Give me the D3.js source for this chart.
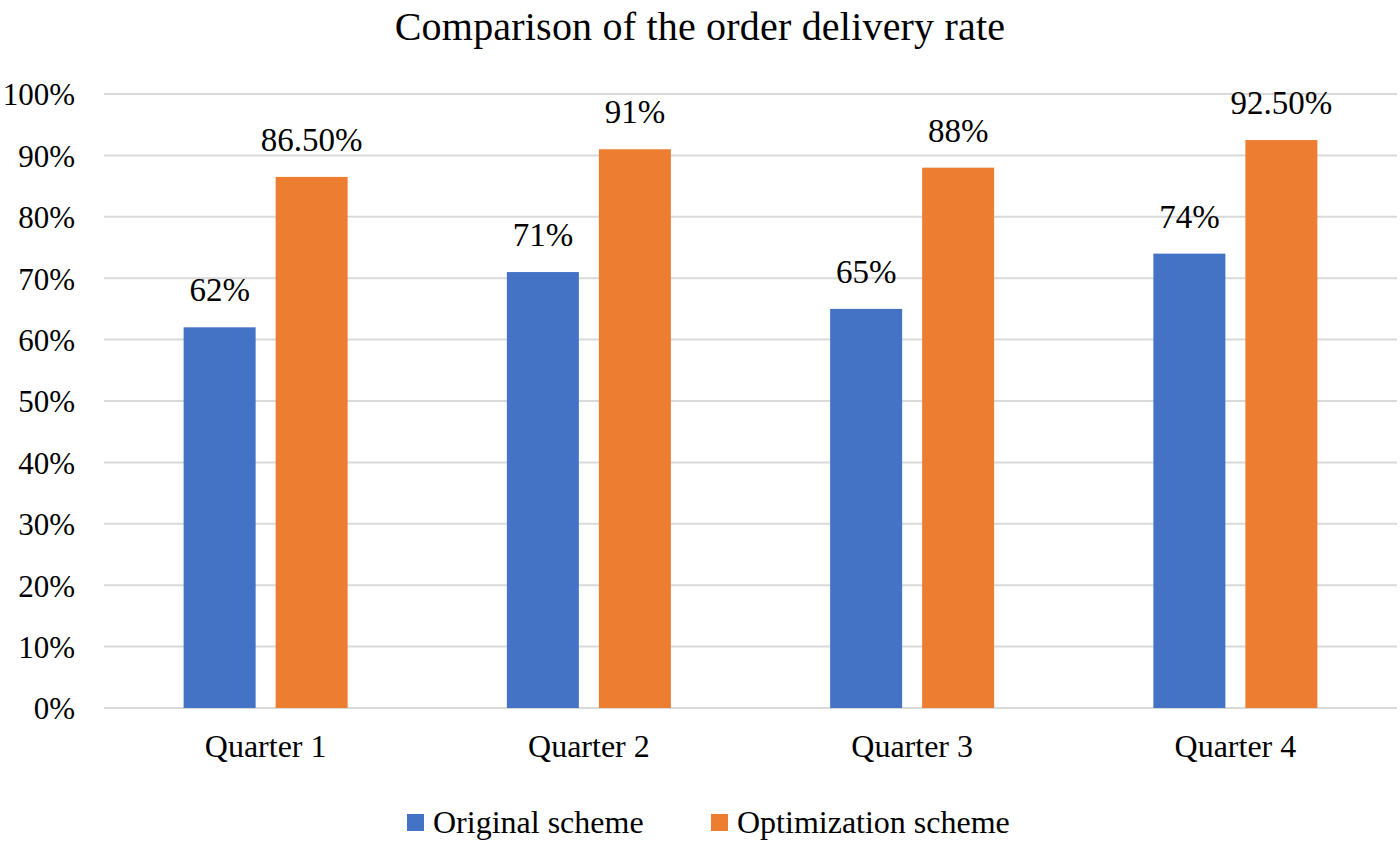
<!DOCTYPE html>
<html>
<head>
<meta charset="utf-8">
<script src="https://cdn.jsdelivr.net/npm/d3@7"></script>
<style>
  body { margin: 0; background: #fff; }
  svg text { font-family: "Liberation Serif", "Times New Roman", serif; fill: #000; }
</style>
</head>
<body>
<div id="chart"></div>
<script>
/** chart data */
let quarters = ['Quarter 1', 'Quarter 2', 'Quarter 3', 'Quarter 4'];
let seriesNames = ['Original scheme', 'Optimization scheme'];
let originalValues = [0.62, 0.71, 0.65, 0.74];
let optimizedValues = [0.865, 0.91, 0.88, 0.925];
let valueLabels = [['62%', '71%', '65%', '74%'], ['86.50%', '91%', '88%', '92.50%']];
let yTicks = [0, 0.1, 0.2, 0.3, 0.4, 0.5, 0.6, 0.7, 0.8, 0.9, 1.0];
let colors = ['#4472C4', '#ED7D31'];

const serif = '"Liberation Serif", "Times New Roman", serif';

/** canvas */
let width = 1400, height = 845;
let margin = { top: 94, right: 3, bottom: 137, left: 104 };
let draw_width = width - margin.left - margin.right;
let draw_height = height - margin.top - margin.bottom;

let svg = d3.select('#chart').append('svg')
    .attr('width', width)
    .attr('height', height);

let canvas = svg.append('g')
    .attr('transform', `translate(${margin.left}, ${margin.top})`);

/** title */
svg.append('text')
    .attr('x', 700)
    .attr('y', 40)
    .attr('text-anchor', 'middle')
    .style('font-family', serif)
    .style('font-size', '40px')
    .style('letter-spacing', '0.2px')
    .text('Comparison of the order delivery rate');

/** scales */
let xScale = d3.scaleBand()
    .domain(quarters)
    .range([0, draw_width]);

let barW = 72, barGap = 20;
let xSub = d3.scaleOrdinal()
    .domain([0, 1])
    .range([-(barW + barGap / 2), barGap / 2]);

let yScale = d3.scaleLinear()
    .domain([0, 1])
    .range([draw_height, 0]);

/** gridlines */
canvas.selectAll('.grid')
    .data(yTicks)
    .enter()
    .append('line')
    .attr('class', 'grid')
    .attr('x1', 0)
    .attr('x2', draw_width)
    .attr('y1', d => yScale(d))
    .attr('y2', d => yScale(d))
    .attr('stroke', '#d9d9d9')
    .attr('stroke-width', 2);

/** y axis */
let yAxis = d3.axisLeft(yScale)
    .tickValues(yTicks)
    .tickFormat(d3.format('.0%'))
    .tickSize(0)
    .tickPadding(29);

canvas.append('g')
    .call(yAxis)
    .attr('font-family', null)
    .call(g => g.select('.domain').remove())
    .selectAll('text')
    .style('font-family', serif)
    .style('font-size', '31px')
    .attr('dy', '0.35em');

/** x axis */
let xAxis = d3.axisBottom(xScale).tickSize(0).tickPadding(26);
canvas.append('g')
    .attr('transform', `translate(0, ${draw_height})`)
    .call(xAxis)
    .attr('font-family', null)
    .call(g => g.select('.domain').remove())
    .selectAll('text')
    .style('font-family', serif)
    .style('font-size', '32px');

/** bars */
let series = [originalValues, optimizedValues];
series.forEach(function (vals, si) {
    let g = canvas.append('g');
    g.selectAll('rect')
        .data(vals)
        .enter()
        .append('rect')
        .attr('x', (d, i) => xScale(quarters[i]) + xScale.bandwidth() / 2 + xSub(si))
        .attr('y', d => yScale(d))
        .attr('width', barW)
        .attr('height', d => draw_height - yScale(d))
        .attr('fill', colors[si]);

    g.selectAll('.label')
        .data(vals)
        .enter()
        .append('text')
        .attr('class', 'label')
        .attr('x', (d, i) => xScale(quarters[i]) + xScale.bandwidth() / 2 + xSub(si) + barW / 2)
        .attr('y', d => yScale(d) - 26)
        .attr('text-anchor', 'middle')
        .style('font-family', serif)
        .style('font-size', '33px')
        .text((d, i) => valueLabels[si][i]);
});

/** legend */
let legendX = [407, 711];
let legend = svg.append('g');
seriesNames.forEach(function (name, si) {
    legend.append('rect')
        .attr('x', legendX[si])
        .attr('y', 814)
        .attr('width', 17)
        .attr('height', 17)
        .attr('fill', colors[si]);
    legend.append('text')
        .attr('x', legendX[si] + 26)
        .attr('y', 833)
        .style('font-family', serif)
        .style('font-size', '32px')
        .text(name);
});
</script>
</body>
</html>
